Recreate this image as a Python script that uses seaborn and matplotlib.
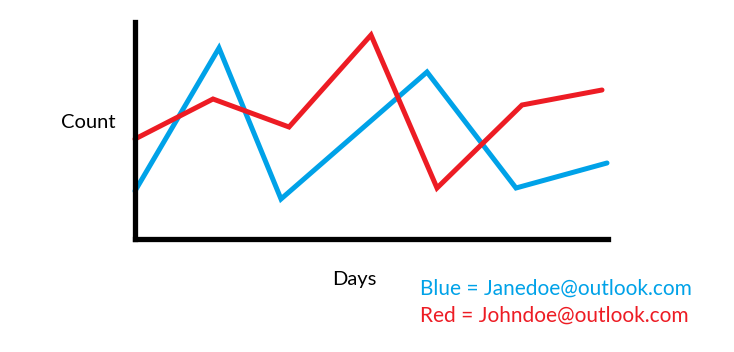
import matplotlib
matplotlib.use("Agg")
import matplotlib.pyplot as plt
import seaborn as sns
import pandas as pd

# Data (x = day position, y = count)
blue_days = [0, 84, 146, 292, 381, 472]
blue_counts = [48, 191, 40, 167, 51, 76]
red_days = [0, 78, 154, 236, 302, 387, 467]
red_counts = [100, 140, 112, 204, 51, 134, 149]

BLUE = "#00A2E8"
RED = "#ED1C24"

sns.set_style("white")
plt.rcParams['font.family'] = ['Lato', 'DejaVu Sans']

W, H = 734, 352
fig = plt.figure(figsize=(W / 100, H / 100), dpi=100)
ax = fig.add_axes([135 / W, (H - 239) / H, 473 / W, 217 / H])

df = pd.concat([
    pd.DataFrame({"day": blue_days, "count": blue_counts, "who": "blue"}),
    pd.DataFrame({"day": red_days, "count": red_counts, "who": "red"}),
])
sns.lineplot(data=df, x="day", y="count", hue="who", palette={"blue": BLUE, "red": RED},
             ax=ax, linewidth=3.6, legend=False, estimator=None, sort=False)
for ln in ax.lines:
    ln.set_clip_on(False)
    ln.set_solid_capstyle("round")
    ln.set_solid_joinstyle("miter")

ax.set_xlim(0, 473)
ax.set_ylim(0, 217)
ax.set_xticks([])
ax.set_yticks([])
ax.set_xlabel("")
ax.set_ylabel("")
for s in ["top", "right"]:
    ax.spines[s].set_visible(False)
for s in ["left", "bottom"]:
    ax.spines[s].set_color("black")
    ax.spines[s].set_linewidth(3.8)
    ax.spines[s].set_capstyle("projecting")
ax.set_facecolor("white")

def px(x, y):
    return x / W, 1 - y / H

fs = 14.5
fig.text(*px(88, 122), "Count", ha="center", va="center", fontsize=fs, color="black")
fig.text(*px(354, 279), "Days", ha="center", va="center", fontsize=fs, color="black")
fig.text(*px(420, 289), "Blue = Janedoe@outlook.com", ha="left", va="center", fontsize=15, color=BLUE)
fig.text(*px(420, 316), "Red = Johndoe@outlook.com", ha="left", va="center", fontsize=15, color=RED)

fig.savefig("out.png", dpi=100, facecolor="white")
